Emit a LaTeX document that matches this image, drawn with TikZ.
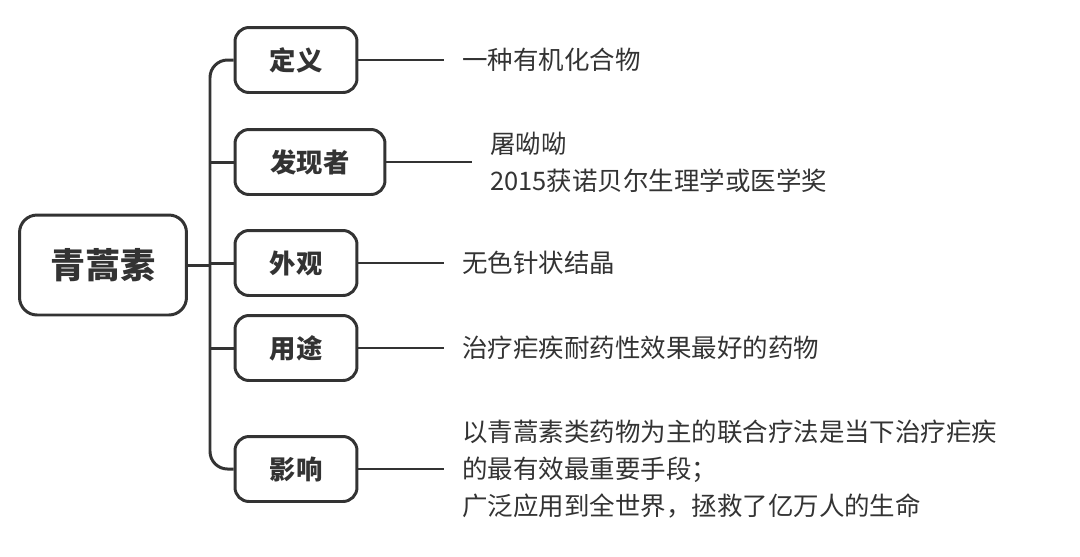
\documentclass[tikz,border=0pt]{standalone}
\usepackage{fontspec}
\setmainfont{Noto Sans CJK SC}
\usetikzlibrary{positioning}

\definecolor{ink}{HTML}{333333}

\begin{document}
\begin{tikzpicture}[x=0.02cm,y=-0.02cm,
	topic/.style={draw=ink,line width=1.7pt,rounded corners=8pt,text=ink,font=\fontsize{15}{21}\selectfont\bfseries,minimum height=1.3cm,inner xsep=10pt},
	leaf/.style={anchor=west,align=left,text=ink,inner sep=0pt,font=\fontsize{14.5}{21.2}\selectfont},
	link/.style={draw=ink,line width=1.7pt},
	thin/.style={draw=ink,line width=0.8pt}]
	\useasboundingbox (0,0) rectangle (1080,556);

	\node[topic,minimum width=3.34cm,minimum height=2cm,rounded corners=10pt,font=\fontsize{20}{24}\selectfont\bfseries] (root) at (103,265) {青蒿素};

	\node[topic,minimum width=2.44cm] (def) at (296,60)  {定义};
	\node[topic,minimum width=3cm]    (who) at (310,162) {发现者};
	\node[topic,minimum width=2.44cm] (look) at (296,263) {外观};
	\node[topic,minimum width=2.44cm] (use) at (296,348) {用途};
	\node[topic,minimum width=2.44cm] (eff) at (296,469) {影响};

	\coordinate (j) at (210,265);

	\draw[link,rounded corners=10pt] (def.west) -| (j) |- (eff.west);
	\draw[link] (root.east) -- (j);
	\draw[link] (who.west) -- (who.west -| j);
	\draw[link] (look.west) -- (look.west -| j);
	\draw[link] (use.west) -- (use.west -| j);

	\node[leaf] (t1) at (462,60)  {一种有机化合物};
	\node[leaf] (t2) at (490,162) {屠呦呦\\2015获诺贝尔生理学或医学奖};
	\node[leaf] (t3) at (462,263) {无色针状结晶};
	\node[leaf] (t4) at (462,348) {治疗疟疾耐药性效果最好的药物};
	\node[leaf] (t5) at (462,469) {以青蒿素类药物为主的联合疗法是当下治疗疟疾\\的最有效最重要手段；\\广泛应用到全世界，拯救了亿万人的生命};

	\draw[thin] (def.east) -- ([xshift=-10pt]t1.west);
	\draw[thin] (who.east) -- ([xshift=-10pt]t2.west);
	\draw[thin] (look.east) -- ([xshift=-10pt]t3.west);
	\draw[thin] (use.east) -- ([xshift=-10pt]t4.west);
	\draw[thin] (eff.east) -- ([xshift=-10pt]t5.west);
\end{tikzpicture}
\end{document}
